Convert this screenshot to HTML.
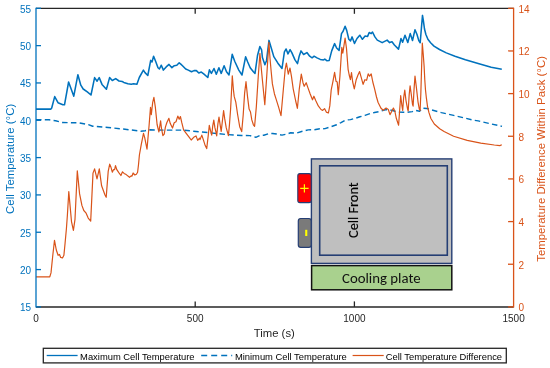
<!DOCTYPE html>
<html><head><meta charset="utf-8"><title>Cell temperature plot</title>
<style>html,body{margin:0;padding:0;background:#fff;width:550px;height:368px;overflow:hidden}svg{display:block}</style>
</head><body>
<svg width="550" height="368" viewBox="0 0 550 368">
<rect width="550" height="368" fill="#fff"/>
<polyline points="36.0,119.8 49.1,119.8 55.6,120.7 62.2,122.5 79.6,122.9 88.4,124.6 92.7,126.2 108.0,127.5 123.3,129.0 140.7,131.2 145.1,130.7 150.0,129.8 163.1,130.1 182.7,130.1 193.6,131.2 208.9,132.7 226.4,134.5 241.6,135.5 250.0,135.6 255.8,137.3 260.2,135.4 263.8,135.2 268.9,133.6 272.5,133.5 277.6,134.2 282.0,135.1 286.4,134.2 290.7,132.8 296.5,133.1 302.4,131.3 308.2,129.9 314.0,129.8 319.8,128.8 325.0,128.6 330.8,126.7 336.6,124.8 341.0,122.6 345.4,120.1 350.5,119.6 355.5,118.3 359.9,116.8 365.0,115.4 370.1,113.6 374.5,112.5 380.3,111.3 386.1,109.6 391.9,110.3 397.7,112.1 403.3,112.2 407.4,112.2 412.3,111.6 415.5,110.3 419.6,111.2 422.5,108.1 427.0,108.5 431.1,109.7 438.5,111.8 441.4,112.6 453.6,115.4 474.1,120.3 478.2,120.9 502.0,126.4" fill="none" stroke="#0072BD" stroke-width="1.45" stroke-dasharray="5.5 3.3" stroke-linejoin="round"/>
<polyline points="36.0,109.1 50.9,109.1 51.7,108.0 54.7,96.6 58.0,102.7 62.9,104.8 64.5,104.8 68.6,82.0 73.8,96.2 77.9,74.7 80.8,85.2 83.2,89.0 87.3,91.8 91.0,95.0 94.6,77.6 97.1,81.2 99.2,77.6 102.0,84.4 106.4,89.3 109.6,77.6 112.3,80.5 115.7,78.6 119.0,81.0 122.2,81.5 123.8,82.4 127.9,83.7 131.2,84.3 133.6,83.7 136.9,84.3 139.3,77.5 143.4,70.1 145.0,72.6 147.8,75.5 150.7,60.4 152.0,62.0 153.6,56.3 155.6,61.2 158.0,67.7 159.4,69.0 161.3,65.2 163.4,70.1 166.2,66.9 169.0,64.4 171.9,67.7 174.3,65.7 176.8,65.2 179.2,62.8 180.8,64.1 182.5,65.7 185.7,69.0 188.3,70.1 191.5,71.8 194.0,70.6 196.4,70.6 198.8,73.0 201.3,72.1 203.7,73.9 207.8,77.5 209.4,69.8 211.4,73.4 214.0,68.5 216.3,74.2 218.9,67.7 221.2,73.4 224.1,65.7 226.5,71.8 229.0,75.0 232.2,54.3 234.7,61.2 238.8,70.1 242.0,75.0 245.6,56.8 247.7,62.0 250.2,67.7 253.4,71.8 255.0,73.4 257.5,55.5 259.9,46.5 261.6,49.8 262.4,57.5 264.9,64.8 266.5,60.7 269.0,40.4 271.4,48.5 273.8,56.6 277.9,63.2 282.0,68.5 284.4,51.8 286.1,49.0 288.0,53.9 290.1,49.6 291.8,52.6 295.0,59.9 297.5,63.6 299.1,56.6 301.0,50.9 303.6,54.5 306.9,52.6 309.7,56.2 312.1,57.8 314.1,56.2 317.0,57.9 320.3,59.4 323.5,59.9 324.8,59.1 326.8,60.7 329.2,60.4 331.7,50.9 334.6,43.6 336.6,48.0 339.1,50.4 341.5,33.6 343.1,31.2 345.1,26.3 346.7,30.4 348.8,39.3 350.5,40.9 352.1,36.9 354.5,43.4 357.0,38.5 359.8,35.2 362.4,39.3 365.1,36.1 367.6,36.4 369.2,32.5 371.2,33.6 372.5,32.0 374.9,36.9 377.3,40.1 382.2,42.6 387.1,40.1 389.6,42.6 392.0,41.8 394.4,45.0 398.5,49.1 401.0,38.5 402.6,42.2 405.0,35.2 407.8,42.5 410.2,33.6 412.5,40.5 415.0,29.7 417.0,34.5 418.8,40.6 420.2,42.7 421.1,31.8 422.5,15.4 423.4,20.9 424.5,29.0 425.9,34.5 427.9,39.3 430.6,42.7 434.0,46.1 439.5,49.5 446.3,52.9 455.0,56.3 465.4,59.8 465.4,59.7 479.0,63.8 491.2,67.2 501.8,69.2" fill="none" stroke="#0072BD" stroke-width="1.55" stroke-linejoin="round"/>
<polyline points="36.0,276.8 49.8,276.8 51.0,272.9 52.8,255.3 54.5,240.3 56.3,250.0 58.1,255.3 59.5,254.5 60.7,257.4 62.5,258.0 63.9,255.3 65.1,243.0 66.4,228.8 67.4,215.0 68.8,191.6 71.5,221.6 73.4,230.4 75.0,219.3 77.3,170.8 79.6,193.9 81.9,205.4 83.8,210.5 85.9,212.8 88.2,218.1 90.7,221.1 93.0,173.1 94.6,168.9 97.0,178.9 99.3,168.9 101.6,185.8 105.0,195.0 106.2,197.3 108.2,171.4 109.7,164.2 111.0,167.3 112.3,172.2 113.5,169.7 114.6,169.6 115.5,165.6 116.8,169.7 118.8,172.6 120.9,175.5 122.5,171.8 124.1,173.4 126.2,174.6 129.5,177.3 131.1,175.9 132.0,176.1 133.1,173.0 134.8,175.0 136.4,174.2 137.6,172.2 138.5,164.8 139.4,155.0 141.2,144.8 143.5,133.3 144.7,137.7 147.0,149.2 149.1,125.3 150.5,107.3 151.3,114.7 152.7,102.4 153.9,97.4 155.3,106.8 157.1,124.5 158.9,132.0 160.6,120.9 161.5,128.5 162.9,135.6 164.2,134.2 165.4,127.1 166.8,122.7 168.9,118.3 170.3,123.6 172.5,128.0 174.2,122.7 176.0,121.8 177.8,116.1 179.2,119.2 180.4,116.5 181.8,122.7 183.6,129.8 186.2,133.3 188.9,136.8 191.2,140.0 193.7,137.3 196.0,135.9 197.7,140.4 199.5,138.2 200.0,139.6 201.8,135.1 203.3,139.6 205.2,145.6 206.7,148.6 208.2,135.9 209.3,125.4 210.5,130.6 211.7,135.1 212.7,126.2 213.8,120.2 214.9,127.7 216.0,132.1 216.7,135.9 217.9,123.9 219.0,117.2 220.2,125.4 221.2,131.4 222.4,120.9 223.6,110.5 224.7,118.7 226.2,127.7 228.4,135.6 229.4,125.4 230.6,109.0 232.3,75.8 233.4,89.5 234.2,96.4 235.8,102.2 237.7,115.0 239.7,126.7 241.7,131.6 243.2,115.0 244.6,93.4 246.0,81.7 247.5,96.4 249.1,109.1 250.5,112.0 251.8,119.9 253.4,124.8 254.6,126.3 256.3,107.1 258.3,75.8 259.3,62.0 259.9,53.3 262.3,79.0 264.8,104.7 266.7,76.6 268.9,42.3 270.0,58.2 271.2,71.7 272.4,83.9 274.4,93.7 276.1,99.1 278.6,107.1 281.0,115.7 283.4,88.8 285.2,69.2 286.4,63.1 288.3,74.1 290.0,68.0 291.5,76.6 293.2,88.8 295.7,101.0 297.4,108.3 299.3,88.8 301.3,74.1 303.0,82.7 304.2,86.3 306.2,82.7 307.9,87.6 310.1,93.7 312.5,99.8 313.9,96.2 315.7,100.6 318.3,105.9 321.0,109.5 322.7,110.4 324.5,108.6 326.3,112.1 328.4,113.0 329.8,105.9 331.2,90.0 333.0,81.2 334.6,72.4 336.0,81.2 337.2,82.1 338.3,94.6 339.9,76.5 341.8,47.3 342.8,53.1 345.1,38.1 346.5,48.5 348.1,69.3 349.2,75.0 350.4,79.7 351.5,72.7 352.7,82.0 354.3,88.9 356.2,79.7 358.0,75.0 359.6,71.6 361.2,77.3 363.1,84.3 364.9,79.7 366.6,80.3 368.2,73.9 369.6,76.2 371.2,73.9 372.8,82.0 374.6,88.9 376.5,97.0 378.1,102.5 381.0,108.3 383.2,110.3 386.1,108.1 388.3,109.5 390.0,114.6 391.9,111.0 393.4,108.1 394.8,111.0 396.3,118.3 398.6,125.2 399.4,114.0 400.7,95.7 401.9,105.5 402.7,110.4 403.6,98.2 404.8,90.2 406.0,100.6 407.6,109.2 408.2,111.0 409.2,94.5 410.1,85.9 411.3,94.5 412.5,104.3 413.1,106.1 414.1,88.4 415.0,76.1 416.2,85.9 418.0,101.8 419.3,109.2 420.1,110.4 420.8,94.5 422.3,43.0 423.3,55.0 424.1,66.0 424.8,80.0 425.5,90.0 426.4,98.2 427.5,106.3 428.9,112.4 430.9,118.5 434.3,124.0 439.7,128.8 444.1,131.5 453.6,136.3 467.2,140.4 480.8,143.1 494.3,145.0 499.8,145.6 501.8,144.8" fill="none" stroke="#D95319" stroke-width="1.2" stroke-linejoin="round"/>
<line x1="36.0" y1="8.3" x2="513.6" y2="8.3" stroke="#262626" stroke-width="1.3"/>
<line x1="36.0" y1="306.9" x2="513.6" y2="306.9" stroke="#262626" stroke-width="1.5"/>
<line x1="195.20" y1="306.9" x2="195.20" y2="301.4" stroke="#262626" stroke-width="1.3"/>
<line x1="195.20" y1="8.3" x2="195.20" y2="13.8" stroke="#262626" stroke-width="1.3"/>
<line x1="354.40" y1="306.9" x2="354.40" y2="301.4" stroke="#262626" stroke-width="1.3"/>
<line x1="354.40" y1="8.3" x2="354.40" y2="13.8" stroke="#262626" stroke-width="1.3"/>
<line x1="36.0" y1="7.65" x2="36.0" y2="307.54999999999995" stroke="#0072BD" stroke-width="1.3"/>
<line x1="36.0" y1="306.90" x2="41.0" y2="306.90" stroke="#0072BD" stroke-width="1.3"/>
<line x1="36.0" y1="269.57" x2="41.0" y2="269.57" stroke="#0072BD" stroke-width="1.3"/>
<line x1="36.0" y1="232.25" x2="41.0" y2="232.25" stroke="#0072BD" stroke-width="1.3"/>
<line x1="36.0" y1="194.92" x2="41.0" y2="194.92" stroke="#0072BD" stroke-width="1.3"/>
<line x1="36.0" y1="157.60" x2="41.0" y2="157.60" stroke="#0072BD" stroke-width="1.3"/>
<line x1="36.0" y1="120.28" x2="41.0" y2="120.28" stroke="#0072BD" stroke-width="1.3"/>
<line x1="36.0" y1="82.95" x2="41.0" y2="82.95" stroke="#0072BD" stroke-width="1.3"/>
<line x1="36.0" y1="45.62" x2="41.0" y2="45.62" stroke="#0072BD" stroke-width="1.3"/>
<line x1="36.0" y1="8.30" x2="41.0" y2="8.30" stroke="#0072BD" stroke-width="1.3"/>
<line x1="513.6" y1="7.65" x2="513.6" y2="307.54999999999995" stroke="#D95319" stroke-width="1.3"/>
<line x1="513.6" y1="306.90" x2="508.1" y2="306.90" stroke="#D95319" stroke-width="1.3"/>
<line x1="513.6" y1="264.24" x2="508.1" y2="264.24" stroke="#D95319" stroke-width="1.3"/>
<line x1="513.6" y1="221.59" x2="508.1" y2="221.59" stroke="#D95319" stroke-width="1.3"/>
<line x1="513.6" y1="178.93" x2="508.1" y2="178.93" stroke="#D95319" stroke-width="1.3"/>
<line x1="513.6" y1="136.27" x2="508.1" y2="136.27" stroke="#D95319" stroke-width="1.3"/>
<line x1="513.6" y1="93.61" x2="508.1" y2="93.61" stroke="#D95319" stroke-width="1.3"/>
<line x1="513.6" y1="50.96" x2="508.1" y2="50.96" stroke="#D95319" stroke-width="1.3"/>
<line x1="513.6" y1="8.30" x2="508.1" y2="8.30" stroke="#D95319" stroke-width="1.3"/>
<text x="31" y="311.2" font-family="Liberation Sans, Arial, sans-serif" font-size="10" fill="#0072BD" text-anchor="end">15</text>
<text x="31" y="273.9" font-family="Liberation Sans, Arial, sans-serif" font-size="10" fill="#0072BD" text-anchor="end">20</text>
<text x="31" y="236.6" font-family="Liberation Sans, Arial, sans-serif" font-size="10" fill="#0072BD" text-anchor="end">25</text>
<text x="31" y="199.2" font-family="Liberation Sans, Arial, sans-serif" font-size="10" fill="#0072BD" text-anchor="end">30</text>
<text x="31" y="161.9" font-family="Liberation Sans, Arial, sans-serif" font-size="10" fill="#0072BD" text-anchor="end">35</text>
<text x="31" y="124.6" font-family="Liberation Sans, Arial, sans-serif" font-size="10" fill="#0072BD" text-anchor="end">40</text>
<text x="31" y="87.2" font-family="Liberation Sans, Arial, sans-serif" font-size="10" fill="#0072BD" text-anchor="end">45</text>
<text x="31" y="49.9" font-family="Liberation Sans, Arial, sans-serif" font-size="10" fill="#0072BD" text-anchor="end">50</text>
<text x="31" y="12.6" font-family="Liberation Sans, Arial, sans-serif" font-size="10" fill="#0072BD" text-anchor="end">55</text>
<text x="518.5" y="311.2" font-family="Liberation Sans, Arial, sans-serif" font-size="10" fill="#D95319">0</text>
<text x="518.5" y="268.5" font-family="Liberation Sans, Arial, sans-serif" font-size="10" fill="#D95319">2</text>
<text x="518.5" y="225.9" font-family="Liberation Sans, Arial, sans-serif" font-size="10" fill="#D95319">4</text>
<text x="518.5" y="183.2" font-family="Liberation Sans, Arial, sans-serif" font-size="10" fill="#D95319">6</text>
<text x="518.5" y="140.6" font-family="Liberation Sans, Arial, sans-serif" font-size="10" fill="#D95319">8</text>
<text x="518.5" y="97.9" font-family="Liberation Sans, Arial, sans-serif" font-size="10" fill="#D95319">10</text>
<text x="518.5" y="55.3" font-family="Liberation Sans, Arial, sans-serif" font-size="10" fill="#D95319">12</text>
<text x="518.5" y="12.6" font-family="Liberation Sans, Arial, sans-serif" font-size="10" fill="#D95319">14</text>
<text x="36.0" y="321.5" font-family="Liberation Sans, Arial, sans-serif" font-size="10" fill="#262626" text-anchor="middle">0</text>
<text x="195.2" y="321.5" font-family="Liberation Sans, Arial, sans-serif" font-size="10" fill="#262626" text-anchor="middle">500</text>
<text x="354.4" y="321.5" font-family="Liberation Sans, Arial, sans-serif" font-size="10" fill="#262626" text-anchor="middle">1000</text>
<text x="513.6" y="321.5" font-family="Liberation Sans, Arial, sans-serif" font-size="10" fill="#262626" text-anchor="middle">1500</text>
<text x="274.3" y="336.5" font-family="Liberation Sans, Arial, sans-serif" font-size="11.3" fill="#262626" text-anchor="middle">Time (s)</text>
<text transform="translate(13.9,158.85) rotate(-90)" font-family="Liberation Sans, Arial, sans-serif" font-size="11.4" fill="#0072BD" text-anchor="middle">Cell Temperature (°C)</text>
<text transform="translate(544.6,158.9) rotate(-90)" font-family="Liberation Sans, Arial, sans-serif" font-size="11.4" fill="#D95319" text-anchor="middle">Temperature Difference Within Pack (°C)</text>
<rect x="311.4" y="158.9" width="140.4" height="104.5" fill="#BFBFBF" stroke="#253E74" stroke-width="1.4"/>
<rect x="319.7" y="165.8" width="127.6" height="89.4" fill="#BFBFBF" stroke="#253E74" stroke-width="1.6"/>
<rect x="297.8" y="173.6" width="13.4" height="29" rx="2.2" fill="#FF0000" stroke="#253E74" stroke-width="1.1"/>
<path d="M300.2 188.4H308.6M304.4 184.2V192.6" stroke="#FFFF00" stroke-width="1.2"/>
<rect x="298.3" y="218.5" width="12.9" height="28.9" rx="2.4" fill="#7A7A7A" stroke="#253E74" stroke-width="1.2"/>
<rect x="305.2" y="229.8" width="2.1" height="6.2" fill="#FFFF00"/>
<rect x="311.6" y="265.6" width="140.2" height="24.2" fill="#A9D18E" stroke="#111" stroke-width="1.5"/>
<text x="381.3" y="282.6" font-family="Carlito, Liberation Sans, sans-serif" font-size="14.8" fill="#111" text-anchor="middle" textLength="78.6" lengthAdjust="spacingAndGlyphs">Cooling plate</text>
<text transform="translate(358.1,210.2) rotate(-90)" font-family="Carlito, Liberation Sans, sans-serif" font-size="14.3" fill="#000" stroke="#000" stroke-width="0.15" text-anchor="middle" textLength="55.5" lengthAdjust="spacingAndGlyphs">Cell Front</text>
<rect x="43.3" y="348.3" width="463" height="14.6" fill="#fff" stroke="#262626" stroke-width="1.3"/>
<line x1="46.7" y1="355.5" x2="77.6" y2="355.5" stroke="#0072BD" stroke-width="1.3"/>
<line x1="201.2" y1="355.5" x2="232.2" y2="355.5" stroke="#0072BD" stroke-width="1.3" stroke-dasharray="6 4"/>
<line x1="352.6" y1="355.5" x2="383.7" y2="355.5" stroke="#D95319" stroke-width="1.2"/>
<text x="80.1" y="359.8" font-family="Liberation Sans, Arial, sans-serif" font-size="9.4" fill="#000">Maximum Cell Temperature</text>
<text x="234.9" y="359.8" font-family="Liberation Sans, Arial, sans-serif" font-size="9.4" fill="#000">Minimum Cell Temperature</text>
<text x="385.7" y="359.8" font-family="Liberation Sans, Arial, sans-serif" font-size="9.4" fill="#000">Cell Temperature Difference</text>
</svg>
</body></html>
